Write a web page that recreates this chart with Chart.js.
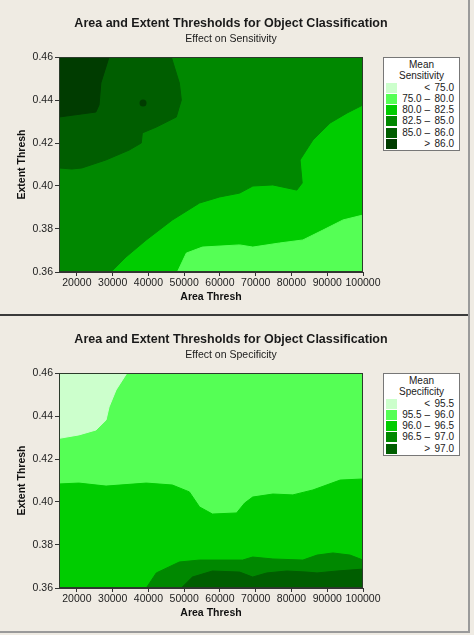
<!DOCTYPE html>
<html>
<head>
<meta charset="utf-8">
<script src="https://cdn.jsdelivr.net/npm/chart.js@4/dist/chart.umd.min.js"></script>
<style>
  body { margin: 0; background: #efebe3; font-family: "Liberation Sans", Arial, sans-serif; color: #1a1a1a; }
  .panel { position: absolute; left: 0; width: 462px; height: 315px; }
  #p1 { top: 0; }
  #p2 { top: 316px; }
  .ttl { position: absolute; left: 0; width: 462px; top: 16px; text-align: center; font-weight: bold; font-size: 12.5px; }
  .sub { position: absolute; left: 0; width: 462px; top: 32px; text-align: center; font-size: 10.5px; }
  .leg { position: absolute; left: 383px; top: 57px; width: 75px; background: #fff; border: 1px solid #777; padding-top: 1px; padding-bottom: 1px; font-size: 10px; }
  .leg .hd { text-align: center; line-height: 11.3px; }
  .leg .row { position: relative; height: 11.3px; line-height: 11.3px; }
  .leg .sw { position: absolute; left: 2px; top: 1px; width: 11px; height: 10px; }
  .leg .a { position: absolute; left: 14px; width: 32px; text-align: right; white-space: pre; }
  .leg .b { position: absolute; left: 47px; width: 23px; text-align: right; }
  .sep { position: absolute; left: 0; top: 314px; width: 470px; height: 2px; background: #3a3a3a; }
  .rb { position: absolute; left: 468px; top: 0; width: 2px; height: 633px; background: #9a9a9a; }
  .bb { position: absolute; left: 0; top: 631px; width: 470px; height: 2px; background: #9a9a9a; }
</style>
</head>
<body>
<div class="panel" id="p1">
  <canvas id="sensChart"></canvas>
  <div class="ttl">Area and Extent Thresholds for Object Classification</div>
  <div class="sub">Effect on Sensitivity</div>
  <div class="leg" id="sensLegend"></div>
</div>
<div class="sep"></div>
<div class="panel" id="p2">
  <canvas id="specChart"></canvas>
  <div class="ttl">Area and Extent Thresholds for Object Classification</div>
  <div class="sub">Effect on Specificity</div>
  <div class="leg" id="specLegend"></div>
</div>
<div class="rb"></div>
<div class="bb"></div>
<script>
const areaTicks = [20000, 30000, 40000, 50000, 60000, 70000, 80000, 90000, 100000];
const extentTicks = [0.36, 0.38, 0.40, 0.42, 0.44, 0.46];
const areaRange = [15000, 100000];
const extentRange = [0.36, 0.46];

// Sensitivity contour edges (area, extent)
const sensEdge86 = [[29000, 0.46], [26700, 0.4479], [26200, 0.4377], [25300, 0.4344], [15000, 0.4321]];
const sensSpot86 = [[38500, 0.4386]];
const sensEdge85 = [[46400, 0.46], [48650, 0.4479], [49200, 0.44], [47800, 0.4321], [42200, 0.4274], [38300, 0.4247],
  [38000, 0.42], [34600, 0.4167], [28100, 0.4121], [21400, 0.4084], [18600, 0.4079], [15000, 0.4084]];
const sensEdge825 = [[29550, 0.36], [33750, 0.367], [39400, 0.3749], [46700, 0.3842], [54300, 0.3921], [59900, 0.3949],
  [65500, 0.3967], [69200, 0.40], [74800, 0.4005], [81500, 0.3981], [83000, 0.4014], [82400, 0.4121], [86000, 0.4214],
  [90800, 0.4293], [95600, 0.434], [100000, 0.4377]];
const sensEdge80 = [[48100, 0.36], [50600, 0.3688], [55100, 0.3716], [65500, 0.3726], [69200, 0.3716], [76700, 0.3735],
  [83200, 0.3749], [88800, 0.3795], [94400, 0.3842], [100000, 0.3865]];
const sensLabels = [['<', '75.0'], ['75.0 \u2013', '80.0'], ['80.0 \u2013', '82.5'], ['82.5 \u2013', '85.0'], ['85.0 \u2013', '86.0'], ['>', '86.0']];
const sensColors = ['#ccffcc', '#55ff55', '#00cc00', '#008800', '#005e00', '#003c00'];

// Specificity contour edges
const specEdge955 = [[34000, 0.46], [30950, 0.4521], [29000, 0.4442], [28150, 0.4381], [25350, 0.4335], [20550, 0.4312], [15000, 0.4296]];
const specEdge96 = [[15000, 0.4084], [20550, 0.4088], [28150, 0.4074], [39400, 0.4088], [46700, 0.4079], [51450, 0.4047],
  [54300, 0.3977], [57900, 0.3944], [64650, 0.3949], [66900, 0.3995], [69150, 0.4023], [74800, 0.4037], [80400, 0.4033],
  [86000, 0.4056], [93600, 0.4102], [100000, 0.4107]];
const specEdge965 = [[39400, 0.36], [42200, 0.367], [48650, 0.3721], [54300, 0.373], [66350, 0.373], [69150, 0.3744],
  [74800, 0.3735], [83200, 0.373], [87150, 0.3753], [91600, 0.3763], [96400, 0.3753], [100000, 0.373]];
const specEdge97 = [[49200, 0.36], [52300, 0.3651], [57900, 0.3679], [65500, 0.3674], [69150, 0.3651], [73100, 0.367],
  [78700, 0.3679], [84300, 0.3674], [87150, 0.367], [92750, 0.3679], [100000, 0.3688]];
const specLabels = [['<', '95.5'], ['95.5 \u2013', '96.0'], ['96.0 \u2013', '96.5'], ['96.5 \u2013', '97.0'], ['>', '97.0']];
const specColors = ['#ccffcc', '#55ff55', '#00cc00', '#008800', '#005e00'];

const [x0, x1] = areaRange;
const [y0, y1] = extentRange;
const plotBox = [[x0, y0], [x1, y0], [x1, y1], [x0, y1]];

function region(points, color, order) {
  return {
    data: points.map(([x, y]) => ({ x, y })),
    showLine: true, fill: 'shape', tension: 0,
    backgroundColor: color, borderColor: color, borderWidth: 1,
    pointRadius: 0, order
  };
}

const frame = {
  id: 'frame',
  afterDraw(chart) {
    const { ctx, chartArea: a } = chart;
    ctx.save();
    ctx.strokeStyle = '#2b3b2b';
    ctx.lineWidth = 1;
    ctx.strokeRect(a.left + 0.5, a.top + 0.5, a.right - a.left - 1, a.bottom - a.top - 1);
    ctx.restore();
  }
};

function makeChart(id, datasets) {
  const tickFont = { family: '"Liberation Sans", Arial, sans-serif', size: 10.5 };
  const titleFont = { family: '"Liberation Sans", Arial, sans-serif', size: 10.5, weight: 'bold' };
  const grid = { drawOnChartArea: false, drawTicks: true, tickLength: 4, color: '#333' };
  return new Chart(document.getElementById(id), {
    type: 'scatter',
    data: { datasets },
    plugins: [frame],
    options: {
      responsive: true, maintainAspectRatio: false, animation: false,
      layout: { padding: { left: 16, right: 99, top: 57, bottom: 11 } },
      plugins: { legend: { display: false }, tooltip: { enabled: false } },
      scales: {
        x: {
          type: 'linear', min: x0, max: x1,
          afterBuildTicks: s => { s.ticks = areaTicks.map(v => ({ value: v })); },
          afterFit: s => { s.height = 32; },
          grid, border: { display: true, color: '#333' },
          ticks: { font: tickFont, color: '#222', padding: 1, maxRotation: 0, autoSkip: false, callback: v => String(v) },
          title: { display: true, text: 'Area Thresh', font: titleFont, color: '#111', padding: { top: 0, bottom: 1 } }
        },
        y: {
          type: 'linear', min: y0, max: y1,
          afterBuildTicks: s => { s.ticks = extentTicks.map(v => ({ value: v })); },
          afterFit: s => { s.width = 43; },
          grid, border: { display: true, color: '#333' },
          ticks: { font: tickFont, color: '#222', padding: 2, callback: v => v.toFixed(2) },
          title: { display: true, text: 'Extent Thresh', font: titleFont, color: '#111', padding: { top: 0, bottom: 0 } }
        }
      }
    }
  });
}

function buildLegend(id, heading, labels, colors) {
  const box = document.getElementById(id);
  box.innerHTML = heading.map(h => `<div class="hd">${h}</div>`).join('') +
    labels.map(([a, b], i) =>
      `<div class="row"><span class="sw" style="background:${colors[i]}"></span><span class="a">${a}</span><span class="b">${b}</span></div>`
    ).join('');
}

makeChart('sensChart', [
  { data: sensSpot86.map(([x, y]) => ({ x, y })), pointRadius: 3.5, pointBorderWidth: 0, backgroundColor: sensColors[5], order: 0 },
  region(sensEdge86.concat([[x0, y1]]), sensColors[5], 1),
  region(sensEdge85.concat([[x0, y1]]), sensColors[4], 2),
  region(sensEdge80.concat([[x1, y0]]), sensColors[1], 3),
  region(sensEdge825.concat([[x1, y1], [x0, y1], [x0, y0]]), sensColors[3], 4),
  region(plotBox, sensColors[2], 5)
]);

makeChart('specChart', [
  region(specEdge97.concat([[x1, y0]]), specColors[4], 1),
  region(specEdge965.concat([[x1, y0]]), specColors[3], 2),
  region(specEdge96.concat([[x1, y0], [x0, y0]]), specColors[2], 3),
  region(specEdge955.concat([[x0, y1]]), specColors[0], 4),
  region(plotBox, specColors[1], 5)
]);

buildLegend('sensLegend', ['Mean', 'Sensitivity'], sensLabels, sensColors);
buildLegend('specLegend', ['Mean', 'Specificity'], specLabels, specColors);
</script>
</body>
</html>
